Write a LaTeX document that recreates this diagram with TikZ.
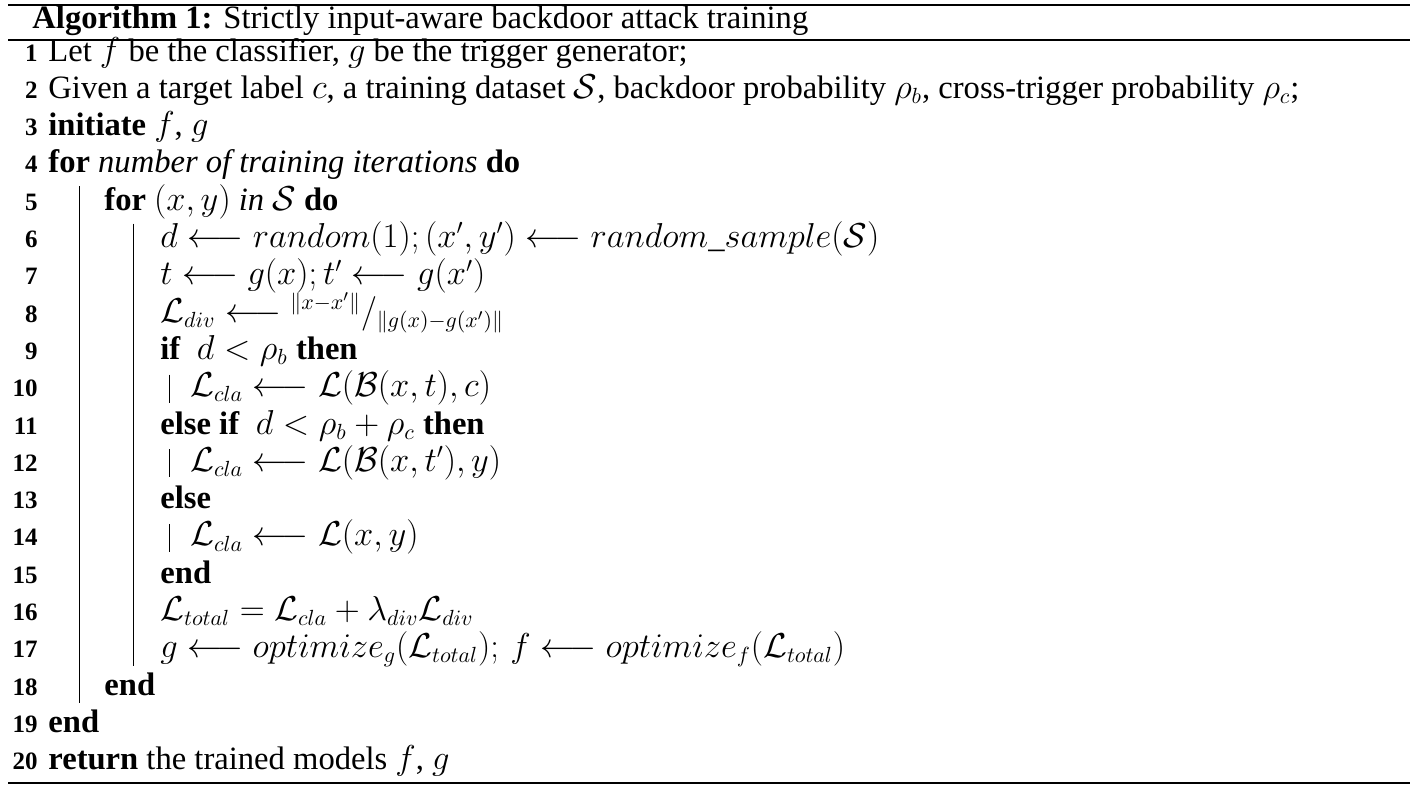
\documentclass[tikz,border=0pt]{standalone}
\usepackage{amsmath}
\usepackage{fontspec}
\setmainfont{Liberation Serif}
\begin{document}
\begin{tikzpicture}[x=0.5pt,y=-0.5pt,
  lt/.style={anchor=base west,inner sep=0pt,font=\fontsize{16.3}{19}\selectfont},
  num/.style={anchor=base east,inner sep=0pt,font=\fontsize{12.5}{15}\selectfont\bfseries},
  bar/.style={line width=0.5pt}]
\useasboundingbox (0,0) rectangle (1418,788);
\draw[line width=1.4pt] (8,5) -- (1410,5);
\node[lt] (hd) at (32,28) {\textbf{Algorithm 1:} Strictly input-aware backdoor attack training};
\draw[line width=0.6pt] (8,40) -- (1410,40);
\def\Y#1{61+(#1-1)*37.3}
\foreach \i in {1,...,20}{\node[num] (n\i) at (38,{\Y{\i}}) {\i};}
\node[lt] (l1) at (48,{\Y{1}}) {Let $f$ be the classifier, $g$ be the trigger generator;};
\node[lt] (l2) at (48,{\Y{2}}) {Given a target label $c$, a training dataset $\mathcal{S}$, backdoor probability $\rho_b$, cross-trigger probability $\rho_c$;};
\node[lt] (l3) at (48,{\Y{3}}) {\textbf{initiate} $f$, $g$};
\node[lt] (l4) at (48,{\Y{4}}) {\textbf{for} \textit{number of training iterations} \textbf{do}};
\node[lt] (l5) at (104,{\Y{5}}) {\textbf{for} $(x,y)$ \textit{in} $\mathcal{S}$ \textbf{do}};
\node[lt] (l6) at (160,{\Y{6}}) {$d\longleftarrow random(1);(x',y')\longleftarrow random\_sample(\mathcal{S})$};
\node[lt] (l7) at (160,{\Y{7}}) {$t\longleftarrow g(x);t'\longleftarrow g(x')$};
\node[lt] (l8) at (160,{\Y{8}}) {$\mathcal{L}_{div}\longleftarrow {}^{\|x-x'\|}/_{\|g(x)-g(x')\|}$};
\node[lt] (l9) at (160,{\Y{9}}) {\textbf{if} \ $d<\rho_b$ \textbf{then}};
\node[lt] (l10) at (190,{\Y{10}}) {$\mathcal{L}_{cla}\longleftarrow \mathcal{L}(\mathcal{B}(x,t),c)$};
\node[lt] (l11) at (160,{\Y{11}}) {\textbf{else if} \ $d<\rho_b+\rho_c$ \textbf{then}};
\node[lt] (l12) at (190,{\Y{12}}) {$\mathcal{L}_{cla}\longleftarrow \mathcal{L}(\mathcal{B}(x,t'),y)$};
\node[lt] (l13) at (160,{\Y{13}}) {\textbf{else}};
\node[lt] (l14) at (190,{\Y{14}}) {$\mathcal{L}_{cla}\longleftarrow \mathcal{L}(x,y)$};
\node[lt] (l15) at (160,{\Y{15}}) {\textbf{end}};
\node[lt] (l16) at (160,{\Y{16}}) {$\mathcal{L}_{total}=\mathcal{L}_{cla}+\lambda_{div}\mathcal{L}_{div}$};
\node[lt] (l17) at (160,{\Y{17}}) {$g\longleftarrow optimize_g(\mathcal{L}_{total});\,f\longleftarrow optimize_f(\mathcal{L}_{total})$};
\node[lt] (l18) at (104,{\Y{18}}) {\textbf{end}};
\node[lt] (l19) at (48,{\Y{19}}) {\textbf{end}};
\node[lt] (l20) at (48,{\Y{20}}) {\textbf{return} the trained models $f$, $g$};
\draw[bar] (79,{\Y{5}-24}) -- (79,{\Y{18}+8});
\draw[bar] (133,{\Y{6}-24}) -- (133,{\Y{17}+8});
\foreach \i in {10,12,14}{\draw[bar] (169,{\Y{\i}-22}) -- (169,{\Y{\i}+6});}
\draw[line width=1.4pt] (8,783) -- (1410,783);
\end{tikzpicture}
\end{document}
